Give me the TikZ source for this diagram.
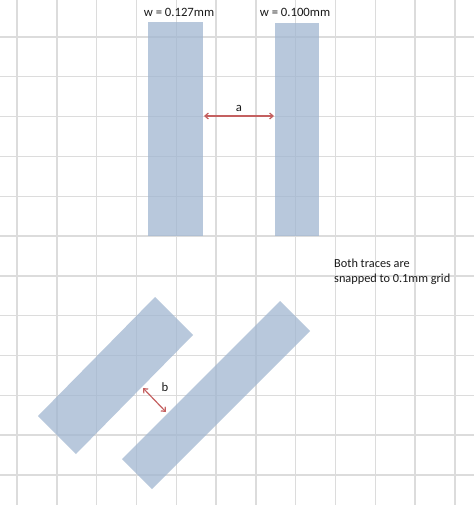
\documentclass[tikz,border=0pt]{standalone}
\usepackage{fontspec}
\setmainfont{Carlito}
\usetikzlibrary{arrows.meta}
\definecolor{gridc}{RGB}{220,220,220}
\definecolor{tracec}{RGB}{160,182,208}
\definecolor{arrc}{RGB}{196,96,96}
\tikzset{
  gridline/.style={draw=gridc, line width=1.4pt},
  trace/.style={fill=tracec, fill opacity=0.75, draw=none},
  dim/.style={draw=arrc, line width=1.2pt, {Straight Barb[length=3.5pt,width=6pt]}-{Straight Barb[length=3.5pt,width=6pt]}},
  lbl/.style={font=\fontsize{12.7}{14}\selectfont, inner sep=0pt, text=black!90},
}
\begin{document}
\begin{tikzpicture}[x=1pt,y=-1pt]
\useasboundingbox (0,0) rectangle (474,505);
% grid
\foreach \i in {0,...,11} {
  \draw[gridline] ({17+39.8*\i},0) -- ({17+39.8*\i},505);
  \draw[gridline] (0,{37+39.8*\i}) -- (474,{37+39.8*\i});
}
% straight traces
\node[trace, minimum width=55pt, minimum height=214pt, inner sep=0pt] (t1) at (175.5,129) {};
\node[trace, minimum width=44pt, minimum height=213pt, inner sep=0pt] (t2) at (297,129.5) {};
\node[lbl] (w1) at (179,12.5) {w = 0.127mm};
\node[lbl] (w2) at (295,12.5) {w = 0.100mm};
\coordinate (a1) at (204,116);
\coordinate (a2) at (274,116);
\draw[dim] (a1) -- (a2);
\node[lbl] (la) at (239,108) {a};
% diagonal traces
\coordinate (p1) at (155,297);
\coordinate (p2) at (193,335);
\coordinate (p3) at (76,454);
\coordinate (p4) at (38,416);
\fill[trace] (p1) -- (p2) -- (p3) -- (p4) -- cycle;
\coordinate (q1) at (280,301);
\coordinate (q2) at (310,331);
\coordinate (q3) at (152,489);
\coordinate (q4) at (122,459);
\fill[trace] (q1) -- (q2) -- (q3) -- (q4) -- cycle;
\coordinate (b1) at (143,388);
\coordinate (b2) at (166,412);
\draw[dim] (b1) -- (b2);
\node[lbl] (lb) at (165,387) {b};
\node[lbl, align=left, anchor=north west, font=\fontsize{12.3}{14.8}\selectfont] (note) at (334,258.5) {Both traces are\\snapped to 0.1mm grid};
\end{tikzpicture}
\end{document}
